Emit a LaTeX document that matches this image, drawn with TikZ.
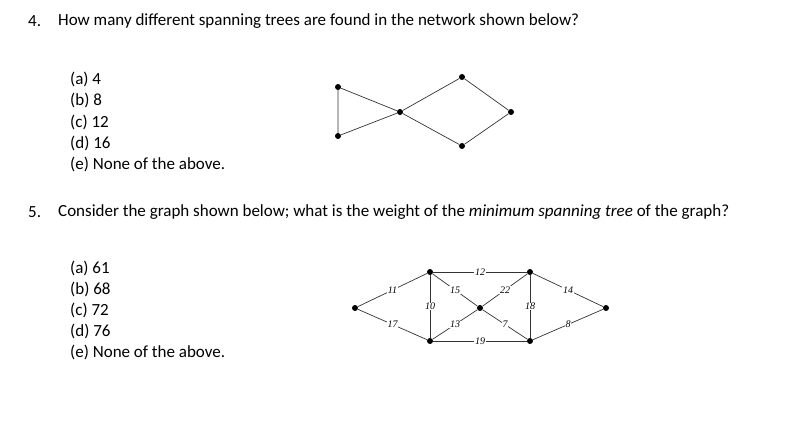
\documentclass[tikz,border=0pt]{standalone}
\usepackage{fontspec}
\setmainfont{Carlito}
\newfontfamily\lblfont{Liberation Serif}
\begin{document}
\begin{tikzpicture}[x=1pt,y=-1pt,
  v/.style={circle,fill=black,inner sep=0pt,minimum size=6pt},
  e/.style={draw=black!80,line width=0.7pt},
  w/.style={fill=white,inner sep=0.6pt,font=\lblfont\itshape\fontsize{10}{10}\selectfont},
  t/.style={anchor=west,inner sep=0pt,font=\fontsize{17}{19}\selectfont}]
\useasboundingbox (0,0) rectangle (791,434);
\node[t] (q4n) at (28,21) {4.};
\node[t] (q4) at (58,21) {How many different spanning trees are found in the network shown below?};
\node[t] (a1) at (70,79) {(a)\ 4};
\node[t] (a2) at (70,100) {(b)\ 8};
\node[t] (a3) at (70,122) {(c)\ 12};
\node[t] (a4) at (70,143) {(d)\ 16};
\node[t] (a5) at (70,164) {(e)\ None of the above.};
\node[t] (q5n) at (28,212) {5.};
\node[t] (q5) at (58,212) {Consider the graph shown below; what is the weight of the \textit{minimum spanning tree} of the graph?};
\node[t] (b1) at (70,268) {(a)\ 61};
\node[t] (b2) at (70,289) {(b)\ 68};
\node[t] (b3) at (70,310) {(c)\ 72};
\node[t] (b4) at (70,331) {(d)\ 76};
\node[t] (b5) at (70,352) {(e)\ None of the above.};
% graph 1
\node[v] (p1) at (338,87) {};
\node[v] (p2) at (338,136) {};
\node[v] (pc) at (400,112) {};
\node[v] (pt) at (462,77) {};
\node[v] (pr) at (511,112) {};
\node[v] (pb) at (462,146) {};
\draw[e] (p1)--(p2) (p1)--(pc) (p2)--(pc) (pc)--(pt) (pt)--(pr) (pr)--(pb) (pb)--(pc);
% graph 2
\node[v] (L) at (355,308) {};
\node[v] (A) at (430,272) {};
\node[v] (B) at (430,341) {};
\node[v] (X) at (480,308) {};
\node[v] (C) at (530,272) {};
\node[v] (D) at (530,341) {};
\node[v] (R) at (606,308) {};
\draw[e] (L)--node[w]{11}(A);
\draw[e] (L)--node[w]{17}(B);
\draw[e] (A)--node[w]{12}(C);
\draw[e] (A)--node[w]{10}(B);
\draw[e] (A)--node[w]{15}(X);
\draw[e] (X)--node[w]{22}(C);
\draw[e] (X)--node[w]{13}(B);
\draw[e] (X)--node[w]{7}(D);
\draw[e] (C)--node[w]{18}(D);
\draw[e] (C)--node[w]{14}(R);
\draw[e] (D)--node[w]{8}(R);
\draw[e] (B)--node[w]{19}(D);
\end{tikzpicture}
\end{document}
